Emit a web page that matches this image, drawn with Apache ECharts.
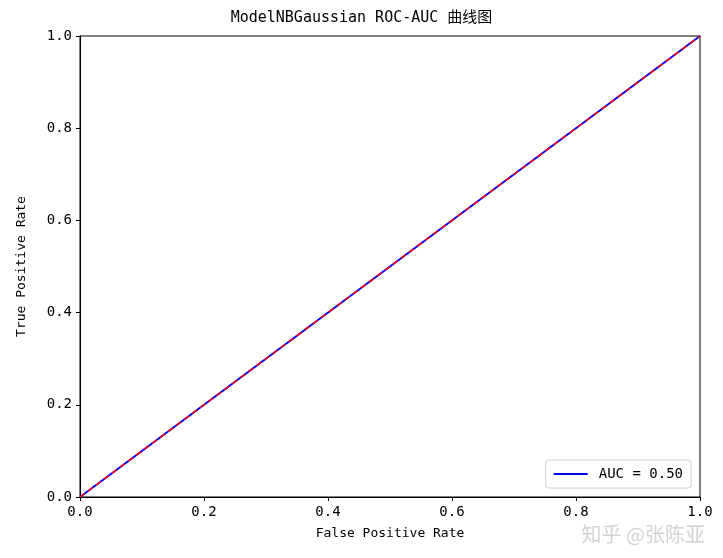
<!DOCTYPE html>
<html>
<head>
<meta charset="utf-8">
<script src="https://cdn.jsdelivr.net/npm/echarts@6/dist/echarts.min.js"></script>
<style>
  html, body { margin: 0; padding: 0; background: #fff; }
  #main { width: 723px; height: 558px; }
</style>
</head>
<body>
<div id="main"></div>
<script>
// ROC 曲线数据
var fpr = [0, 1];
var tpr = [0, 1];
var diagX = [0, 1];
var diagY = [0, 1];
var aucLabel = "AUC = 0.50";

var font = "'Noto Sans CJK SC', 'DejaVu Sans Mono', monospace";
var monoFont = "'DejaVu Sans Mono', 'Noto Sans CJK SC', monospace";
var chart = echarts.init(document.getElementById("main"));

var axisCommon = {
  type: "value",
  min: 0,
  max: 1,
  interval: 0.2,
  nameLocation: "middle",
  nameTextStyle: { color: "#000", fontSize: 13, fontFamily: monoFont },
  axisLine: { show: true, lineStyle: { color: "#000", width: 1 } },
  axisTick: { show: true, length: 4, lineStyle: { color: "#000" } },
  axisLabel: {
    color: "#000", fontSize: 14, fontFamily: monoFont,
    formatter: function (v) { return v.toFixed(1); }
  },
  splitLine: { show: false }
};

var option = {
  backgroundColor: "#fff",
  animation: false,
  title: {
    text: "ModelNBGaussian ROC-AUC 曲线图",
    left: "center",
    top: 6,
    textStyle: { fontSize: 15, fontWeight: "normal", color: "#000", fontFamily: monoFont }
  },
  grid: { left: 80, right: 23, top: 36, bottom: 61, show: true, borderColor: "#000", borderWidth: 1 },
  xAxis: Object.assign({}, axisCommon, { name: "False Positive Rate", nameGap: 30 }),
  yAxis: Object.assign({}, axisCommon, { name: "True Positive Rate", nameGap: 52 }),
  legend: {
    data: [aucLabel],
    right: 32,
    bottom: 70,
    orient: "vertical",
    backgroundColor: "#fff",
    borderColor: "#ccc",
    borderWidth: 1,
    borderRadius: 3,
    padding: [7, 8],
    itemWidth: 34,
    itemHeight: 2,
    itemGap: 8,
    icon: "rect",
    textStyle: { fontSize: 14, color: "#000", fontFamily: monoFont, padding: [0, 0, 0, 6] }
  },
  graphic: [{
    type: "text",
    right: 18,
    bottom: 14,
    style: { text: "知乎 @张陈亚", fontSize: 20, fill: "rgba(200,200,200,0.8)", fontFamily: font }
  }],
  series: [
    {
      name: aucLabel,
      type: "line",
      data: fpr.map(function (x, i) { return [x, tpr[i]]; }),
      symbol: "none",
      lineStyle: { color: "#0000ff", width: 2 },
      itemStyle: { color: "#0000ff" }
    },
    {
      name: "diag",
      type: "line",
      data: diagX.map(function (x, i) { return [x, diagY[i]]; }),
      symbol: "none",
      lineStyle: { color: "#ff0000", width: 1.5, type: [6, 4] }
    }
  ]
};
chart.setOption(option);
</script>
</body>
</html>
